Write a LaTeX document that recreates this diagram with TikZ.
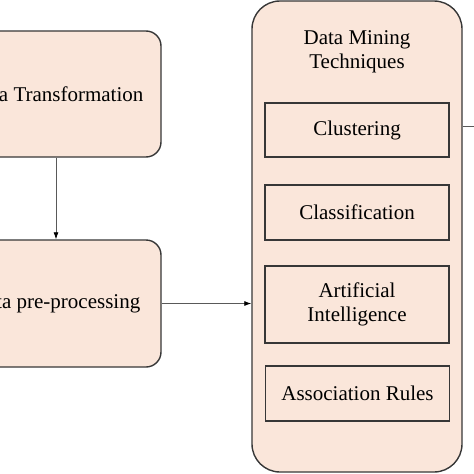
\documentclass[tikz,border=0pt]{standalone}
\usepackage{fontspec}
\setmainfont{Liberation Serif}
\usetikzlibrary{arrows.meta}
\definecolor{peach}{RGB}{250,230,218}
\definecolor{edge}{RGB}{55,55,55}
\tikzset{
  stagebox/.style={draw=edge, line width=1.4pt, fill=peach, rounded corners=15pt, font=\fontsize{21}{24}\selectfont, inner sep=0pt},
  outerbox/.style={draw=edge, line width=1.4pt, fill=peach, rounded corners=28pt, inner sep=0pt},
  techbox/.style={draw=edge, line width=1.1pt, fill=peach, font=\fontsize{21}{24}\selectfont, inner sep=0pt, minimum width=184pt, align=center},
  flow/.style={draw=gray!70!black, line width=0.8pt, -{Latex[black,length=7pt,width=5pt]}},
  plain/.style={draw=gray!70!black, line width=0.8pt}
}
\begin{document}
\begin{tikzpicture}[x=1pt,y=-1pt]
\useasboundingbox (0,0) rectangle (474,474);
\fill[white] (0,0) rectangle (474,474);
\node[stagebox, minimum width=210pt, minimum height=126pt] (trans) at (56,94) {Data Transformation};
\node[stagebox, minimum width=210pt, minimum height=127pt] (pre) at (56,303.5) {Data pre-processing};
\node[outerbox, minimum width=210pt, minimum height=471pt] (dm) at (357,236.5) {};
\node[font=\fontsize{21}{24}\selectfont, align=center] (title) at (357,52) {Data Mining\\Techniques};
\node[techbox, minimum height=54pt] (clu) at (357,130) {Clustering};
\node[techbox, minimum height=55pt] (cla) at (357,212.5) {Classification};
\node[techbox, minimum height=77pt] (ai) at (357,304.5) {Artificial\\Intelligence};
\node[techbox, minimum height=55pt] (ar) at (357.5,393.5) {Association Rules};
\coordinate (outr) at (485,126);
\draw[flow] (trans) -- (pre);
\draw[flow] (pre.east) -- (pre.east -| dm.west);
\draw[plain] (dm.east |- outr) -- (outr);
\end{tikzpicture}
\end{document}
